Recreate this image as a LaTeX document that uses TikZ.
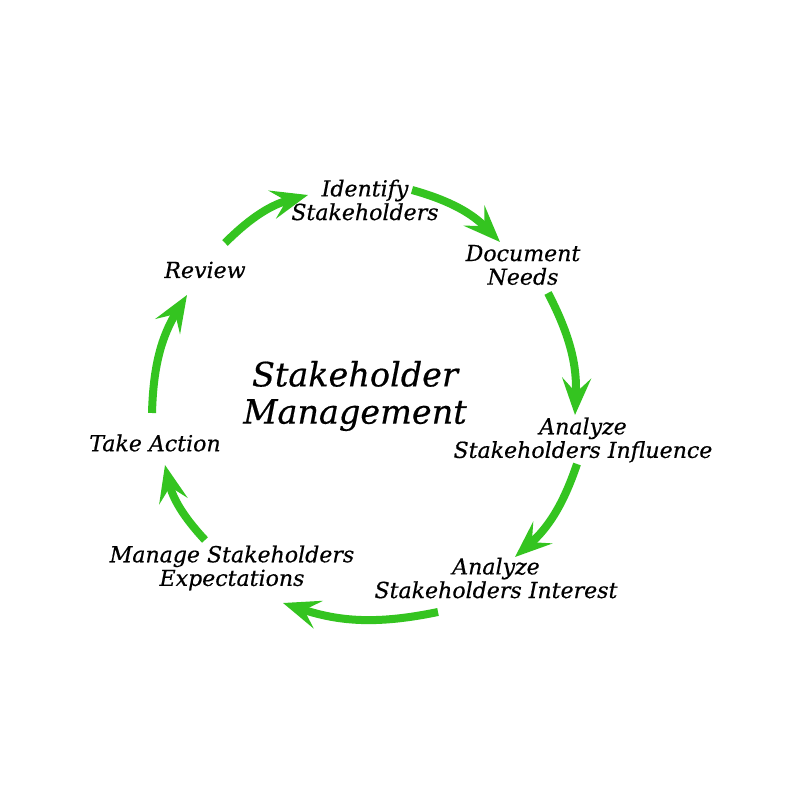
\documentclass[tikz,border=0pt]{standalone}
\usepackage{fontspec}
\setmainfont{DejaVu Serif}
\newfontfamily\cyclefont{DejaVu Serif}[ItalicFeatures={FakeBold=0.5}]
\usetikzlibrary{arrows.meta}
\definecolor{cyclegreen}{RGB}{52,196,32}

\begin{document}
\begin{tikzpicture}[lbl/.style={align=center,font=\cyclefont\itshape\fontsize{15.7}{16.8}\selectfont,inner sep=0pt},
arr/.style={draw=cyclegreen,line width=0.2cm,-{Stealth[length=0.92cm,width=0.72cm,inset=0.36cm]},bend left=15}]
\useasboundingbox[fill=white] (0,0) rectangle (20,20);
\node[lbl,font=\cyclefont\itshape\fontsize{23.8}{26.5}\selectfont] (title) at (8.875,10.1) {Stakeholder\\Management};
\node[lbl] (identify) at (9.125,15.0) {Identify\\Stakeholders};
\node[lbl] (document) at (13.075,13.375) {Document\\Needs};
\node[lbl] (influence) at (14.575,9.0) {Analyze\\Stakeholders Influence};
\node[lbl] (interest) at (12.4,5.55) {Analyze\\Stakeholders Interest};
\node[lbl] (manage) at (5.8,5.8) {Manage Stakeholders\\Expectations};
\node[lbl] (action) at (3.875,8.925) {Take Action};
\node[lbl] (review) at (5.125,13.25) {Review};
% arrow ends
\coordinate (r1) at (5.625,13.925); \coordinate (i0) at (7.7,15.125);
\coordinate (i1) at (10.3,15.25); \coordinate (d0) at (12.5,13.95);
\coordinate (d1) at (13.7,12.675); \coordinate (f0) at (14.375,9.625);
\coordinate (f1) at (14.425,8.4); \coordinate (t0) at (12.875,6.075);
\coordinate (t1) at (10.95,4.7); \coordinate (m0) at (7.075,4.925);
\coordinate (m1) at (5.125,6.5); \coordinate (a0) at (4.125,8.375);
\coordinate (a1) at (3.8,9.675); \coordinate (r0) at (4.675,12.625);
\draw[arr] (r1) to (i0);
\draw[arr] (i1) to (d0);
\draw[arr] (d1) to (f0);
\draw[arr] (f1) to (t0);
\draw[arr] (t1) to (m0);
\draw[arr] (m1) to (a0);
\draw[arr] (a1) to (r0);
\end{tikzpicture}
\end{document}
